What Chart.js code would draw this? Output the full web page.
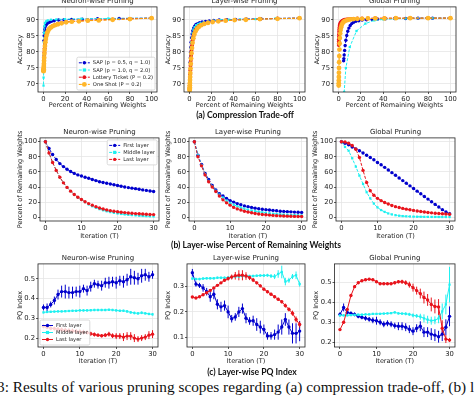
<!DOCTYPE html>
<html>
<head>
<meta charset="utf-8">
<script src="https://cdn.jsdelivr.net/npm/chart.js@4/dist/chart.umd.min.js"></script>
<style>
  body { margin: 0; background: #fff; width: 474px; height: 396px; overflow: hidden; position: relative; }
  canvas { position: absolute; }
  .cap { position: absolute; transform: translateX(-50%); white-space: nowrap; font-family: Lato, sans-serif; font-weight: bold; font-size: 8.6px; color: #111; }
  .body-text { position: absolute; left: -3px; top: 377.5px; white-space: nowrap; font-family: "Liberation Serif", serif; font-size: 15.3px; color: #111; }
</style>
</head>
<body>
<canvas id="c1"></canvas><canvas id="c2"></canvas><canvas id="c3"></canvas>
<canvas id="c4"></canvas><canvas id="c5"></canvas><canvas id="c6"></canvas>
<canvas id="c7"></canvas><canvas id="c8"></canvas><canvas id="c9"></canvas>
<div class="cap" style="left:245px;top:110px">(a) Compression Trade-off</div>
<div class="cap" style="left:256px;top:240px">(b) Layer-wise Percent of Remaining Weights</div>
<div class="cap" style="left:252px;top:367px">(c) Layer-wise PQ Index</div>
<div class="body-text">3: Results of various pruning scopes regarding (a) compression trade-off, (b) l</div>
<script>
// ---------- (a) accuracy vs percent of remaining weights ----------
const pctTicks = [0, 20, 40, 60, 80, 100];
const accTicks = [70, 75, 80, 85, 90];
const ticketX = [100, 80, 64, 51.2, 41, 32.8, 26.2, 21, 16.8, 13.4, 10.7, 8.6, 6.9, 5.5, 4.4, 3.5, 2.8, 2.25, 1.8, 1.44, 1.15, 0.92, 0.74, 0.59, 0.47, 0.38, 0.3, 0.24, 0.19, 0.15, 0.12];

const neuSap1X = [100, 70, 50, 36, 26, 19, 14, 10, 7.5, 5.5, 4, 3, 2.2, 1.6, 1.2, 0.9, 0.7, 0.5];
const neuSap1Y = [90.5, 90.4, 90.3, 90.2, 90.1, 90, 89.9, 89.7, 89.5, 89.2, 89, 88.7, 88.3, 87.8, 87, 86, 85, 83.5];
const neuSap2X = [100, 60, 35, 20, 12, 7, 4, 2.4, 1.4, 0.9, 0.6, 0.4, 0.3, 0.2, 0.15, 0.1];
const neuSap2Y = [90.5, 90.4, 90.3, 90.2, 90.1, 90, 89.8, 89.5, 89, 88, 86, 83, 79, 75, 72, 69.5];
const neuTicketY = [90.5, 90.3, 90.1, 89.9, 89.8, 89.6, 89.5, 89.3, 89.0, 88.7, 88.4, 88.1, 87.7, 87.3, 86.8, 86.1, 85.3, 84.4, 83.4, 82.3, 81.1, 79.9, 78.7, 77.6, 76.7, 75.9, 75.3, 74.8, 74.5, 74.3, 74.2];
const neuShotY = [90.5, 90.2, 90.0, 89.8, 89.7, 89.5, 89.4, 89.2, 88.9, 88.6, 88.3, 88.0, 87.6, 87.2, 86.6, 85.9, 85.0, 84.0, 83.0, 81.8, 80.6, 79.4, 78.2, 77.2, 76.3, 75.6, 75.0, 74.6, 74.3, 74.1, 74.0];

const laySap1X = [100, 80, 65, 52, 42, 34, 27, 22, 18, 14.5, 11.5, 9.2, 7.4, 5.9, 4.7, 3.8, 3.0, 2.4, 1.9, 1.5, 1.2, 1.0, 0.8, 0.65];
const laySap1Y = [90.5, 90.4, 90.3, 90.2, 90.1, 90.0, 89.9, 89.8, 89.6, 89.5, 89.3, 89.1, 88.8, 88.5, 88.0, 87.4, 86.6, 85.6, 84.4, 83.0, 81.4, 79.8, 78.2, 76.8];
const laySap2X = [100, 78, 60, 46, 36, 28, 22, 17, 13, 10, 7.8, 6, 4.6, 3.6, 2.8, 2.2, 1.7, 1.3, 1.0, 0.8, 0.6, 0.45, 0.35, 0.27];
const laySap2Y = [90.5, 90.4, 90.2, 90.1, 90.0, 89.9, 89.7, 89.5, 89.3, 89.0, 88.7, 88.3, 87.7, 86.9, 85.9, 84.6, 83.0, 81.1, 79.0, 76.8, 74.6, 72.4, 70.5, 68.8];
const layTicketY = [90.5, 90.4, 90.2, 90.1, 89.9, 89.8, 89.6, 89.4, 89.2, 88.9, 88.5, 88.1, 87.5, 86.8, 85.9, 84.8, 83.5, 82.0, 80.4, 78.8, 77.2, 75.7, 74.3, 73.0, 71.9, 71.0, 70.2, 69.6, 69.1, 68.8, 68.5];
const layShotY = [90.5, 90.3, 90.2, 90.0, 89.9, 89.7, 89.5, 89.3, 89.0, 88.7, 88.3, 87.8, 87.2, 86.4, 85.4, 84.2, 82.8, 81.2, 79.6, 77.9, 76.3, 74.8, 73.4, 72.2, 71.2, 70.3, 69.6, 69.0, 68.6, 68.3, 68.1];

const gloSap1X = [100, 84, 71, 60, 50, 42, 35, 30, 25, 21, 18, 15.5, 13.5, 11.8, 10.4, 9.2, 8.2, 7.3, 6.5, 5.9, 5.4, 5.0, 4.7, 4.5];
const gloSap1Y = [90.5, 90.5, 90.5, 90.4, 90.4, 90.3, 90.2, 90.1, 90.0, 89.9, 89.7, 89.5, 89.2, 88.8, 88.2, 87.4, 86.4, 85.1, 83.6, 82.0, 80.4, 79.0, 77.9, 77.2];
const gloSap2X = [100, 84, 71, 60, 50, 40, 32, 24, 16, 10, 6.5, 5];
const gloSap2Y = [90.5, 90.5, 90.5, 90.4, 90.3, 90.1, 89.8, 88.8, 86.5, 81.5, 75, 67.5];
const gloTicketY = [90.5, 90.5, 90.5, 90.5, 90.5, 90.5, 90.4, 90.4, 90.4, 90.3, 90.3, 90.2, 90.1, 90.0, 89.9, 89.7, 89.5, 89.3, 89.1, 88.8, 88.5, 88.1, 87.6, 87.0, 86.3, 85.5, 84.7, 83.9, 83.2, 82.6, 82.1];
const gloShotY = [90.5, 90.5, 90.5, 90.5, 90.4, 90.4, 90.4, 90.3, 90.3, 90.2, 90.1, 90.0, 89.8, 89.6, 89.3, 88.9, 88.4, 87.7, 86.8, 85.7, 84.3, 82.6, 80.7, 78.7, 76.8, 75.0, 73.5, 72.2, 71.1, 70.2, 69.5];

// ---------- (b) percent of remaining weights per layer ----------
const iters = [0, 1, 2, 3, 4, 5, 6, 7, 8, 9, 10, 11, 12, 13, 14, 15, 16, 17, 18, 19, 20, 21, 22, 23, 24, 25, 26, 27, 28, 29, 30];
const iterTicks = [0, 10, 20, 30];
const remTicks = [0, 20, 40, 60, 80, 100];

const neuFirstPct = [100, 91, 83, 76.5, 71, 67, 63.5, 60.5, 58, 56, 54.5, 53, 51.5, 50, 48.5, 47, 46, 45, 44, 43, 42, 41, 40, 39.2, 38.5, 37.8, 37, 36.2, 35.5, 34.8, 34];
const neuMidPct = [100, 85, 72.5, 62, 53, 45.5, 39.5, 34.5, 30, 26, 23, 20, 17, 14.5, 12.5, 10.7, 9.2, 7.9, 6.8, 5.8, 5.0, 4.3, 3.7, 3.2, 2.8, 2.4, 2.0, 1.7, 1.4, 1.2, 1.0];
const neuLastPct = [100, 85, 72.5, 62, 53, 45.5, 39.5, 34.5, 30, 26.5, 23.5, 20.5, 18, 16, 14, 12.3, 10.9, 9.7, 8.7, 7.9, 7.2, 6.6, 6.1, 5.6, 5.2, 4.8, 4.5, 4.2, 3.9, 3.7, 3.5];

const layFirstPct = [100, 82, 70, 58, 50, 42, 36, 31, 28, 25, 22, 20, 18, 16.5, 15, 14, 13, 12, 11.2, 10.5, 10, 9.5, 9, 8.5, 8, 7.7, 7.4, 7.1, 6.8, 6.6, 6.4];
const layMidPct = [100, 82, 69, 57, 48, 41, 35, 30, 26, 22, 19, 16.5, 14.5, 12.8, 11.3, 10, 9, 8, 7.2, 6.5, 5.8, 5.2, 4.7, 4.3, 3.9, 3.6, 3.3, 3, 2.8, 2.6, 2.4];
const layLastPct = [100, 80, 68, 56, 47, 40, 34, 28, 23, 19, 16, 13, 11, 9.5, 8, 7, 6, 5, 4.3, 3.7, 3.2, 2.8, 2.4, 2.1, 1.8, 1.6, 1.4, 1.2, 1.1, 1, 0.9];

const gloFirstPct = [100, 98, 96, 93, 90.5, 88, 85, 82, 79, 76, 72.5, 69.5, 66, 62.5, 59, 55.5, 52, 48.5, 45, 41.5, 38, 34.5, 31, 27.5, 24, 20.5, 17, 13.5, 10, 7, 4.5];
const gloMidPct = [100, 93, 88, 78, 67, 55, 44, 33, 25, 18, 13, 9.5, 7, 5, 3.7, 2.7, 2, 1.5, 1.2, 1, 0.8, 0.7, 0.6, 0.5, 0.5, 0.4, 0.4, 0.3, 0.3, 0.3, 0.3];
const gloLastPct = [100, 99.5, 98, 95, 90, 79, 62, 46, 35, 29, 25, 22, 19.5, 17.5, 15.5, 14, 12.8, 11.7, 10.7, 9.8, 9, 8.2, 7.5, 6.9, 6.3, 5.8, 5.3, 4.9, 4.5, 4.2, 4];

// ---------- (c) PQ index per layer (mean and error) ----------
const neuFirstPQ = [0.355, 0.355, 0.37, 0.39, 0.42, 0.435, 0.435, 0.43, 0.43, 0.435, 0.435, 0.45, 0.44, 0.46, 0.475, 0.47, 0.465, 0.48, 0.48, 0.485, 0.48, 0.49, 0.485, 0.495, 0.51, 0.505, 0.5, 0.515, 0.52, 0.51, 0.52];
const neuFirstErr = [0.015, 0.02, 0.015, 0.02, 0.025, 0.03, 0.035, 0.03, 0.03, 0.025, 0.03, 0.02, 0.025, 0.025, 0.02, 0.02, 0.025, 0.025, 0.03, 0.025, 0.03, 0.025, 0.03, 0.03, 0.04, 0.035, 0.03, 0.035, 0.03, 0.025, 0.02];
const neuMidPQ = [0.33, 0.332, 0.333, 0.334, 0.335, 0.335, 0.336, 0.337, 0.338, 0.338, 0.34, 0.34, 0.34, 0.341, 0.342, 0.342, 0.342, 0.342, 0.343, 0.342, 0.34, 0.338, 0.338, 0.335, 0.33, 0.327, 0.325, 0.328, 0.325, 0.322, 0.32];
const neuMidErr = [0.005, 0.005, 0.005, 0.005, 0.005, 0.005, 0.005, 0.005, 0.005, 0.005, 0.006, 0.006, 0.006, 0.006, 0.006, 0.006, 0.006, 0.006, 0.006, 0.006, 0.006, 0.006, 0.006, 0.007, 0.007, 0.007, 0.007, 0.007, 0.006, 0.006, 0.006];
const neuLastPQ = [0.26, 0.255, 0.25, 0.248, 0.245, 0.242, 0.24, 0.238, 0.236, 0.234, 0.232, 0.23, 0.228, 0.222, 0.218, 0.215, 0.212, 0.215, 0.22, 0.212, 0.21, 0.21, 0.205, 0.21, 0.21, 0.2, 0.195, 0.2, 0.205, 0.215, 0.22];
const neuLastErr = [0.01, 0.01, 0.01, 0.01, 0.01, 0.012, 0.012, 0.012, 0.012, 0.012, 0.012, 0.012, 0.01, 0.01, 0.01, 0.008, 0.008, 0.01, 0.012, 0.012, 0.015, 0.015, 0.02, 0.02, 0.02, 0.02, 0.015, 0.015, 0.015, 0.02, 0.02];

const layFirstPQ = [0.355, 0.31, 0.305, 0.295, 0.28, 0.26, 0.27, 0.23, 0.22, 0.225, 0.2, 0.173, 0.18, 0.2, 0.213, 0.175, 0.164, 0.165, 0.15, 0.14, 0.13, 0.105, 0.105, 0.11, 0.12, 0.14, 0.17, 0.14, 0.115, 0.115, 0.124];
const layFirstErr = [0.015, 0.01, 0.01, 0.015, 0.015, 0.02, 0.02, 0.02, 0.02, 0.02, 0.025, 0.015, 0.015, 0.02, 0.02, 0.02, 0.015, 0.02, 0.025, 0.025, 0.02, 0.015, 0.015, 0.02, 0.03, 0.03, 0.025, 0.03, 0.04, 0.04, 0.04];
const layMidPQ = [0.332, 0.33, 0.33, 0.332, 0.333, 0.333, 0.333, 0.335, 0.335, 0.335, 0.336, 0.338, 0.34, 0.34, 0.342, 0.342, 0.342, 0.342, 0.343, 0.344, 0.344, 0.345, 0.342, 0.34, 0.35, 0.358, 0.32, 0.325, 0.34, 0.345, 0.31];
const layMidErr = [0.005, 0.005, 0.005, 0.005, 0.005, 0.005, 0.005, 0.005, 0.005, 0.005, 0.005, 0.005, 0.005, 0.005, 0.005, 0.005, 0.005, 0.005, 0.005, 0.005, 0.006, 0.006, 0.008, 0.01, 0.015, 0.025, 0.015, 0.01, 0.01, 0.015, 0.01];
const layLastPQ = [0.259, 0.255, 0.26, 0.268, 0.276, 0.285, 0.295, 0.305, 0.315, 0.325, 0.332, 0.338, 0.343, 0.345, 0.345, 0.342, 0.336, 0.326, 0.315, 0.303, 0.29, 0.28, 0.27, 0.26, 0.25, 0.24, 0.225, 0.21, 0.195, 0.17, 0.15];
const layLastErr = [0.004, 0.004, 0.004, 0.004, 0.004, 0.004, 0.004, 0.005, 0.005, 0.006, 0.008, 0.01, 0.015, 0.02, 0.02, 0.015, 0.01, 0.008, 0.006, 0.006, 0.006, 0.006, 0.006, 0.006, 0.006, 0.006, 0.008, 0.008, 0.01, 0.012, 0.012];

const gloFirstPQ = [0.34, 0.375, 0.35, 0.345, 0.34, 0.33, 0.325, 0.32, 0.315, 0.31, 0.308, 0.3, 0.29, 0.295, 0.29, 0.283, 0.28, 0.28, 0.275, 0.265, 0.255, 0.27, 0.28, 0.25, 0.25, 0.24, 0.235, 0.227, 0.24, 0.275, 0.33];
const gloFirstErr = [0.01, 0.02, 0.015, 0.01, 0.01, 0.01, 0.01, 0.012, 0.012, 0.015, 0.02, 0.015, 0.015, 0.015, 0.015, 0.015, 0.02, 0.02, 0.02, 0.02, 0.02, 0.02, 0.025, 0.025, 0.025, 0.03, 0.03, 0.03, 0.035, 0.04, 0.05];
const gloMidPQ = [0.335, 0.335, 0.335, 0.336, 0.337, 0.338, 0.338, 0.34, 0.34, 0.342, 0.342, 0.343, 0.344, 0.345, 0.346, 0.35, 0.345, 0.344, 0.343, 0.34, 0.335, 0.332, 0.328, 0.32, 0.313, 0.308, 0.31, 0.32, 0.355, 0.39, 0.49];
const gloMidErr = [0.005, 0.005, 0.005, 0.005, 0.005, 0.005, 0.005, 0.005, 0.005, 0.005, 0.005, 0.005, 0.005, 0.005, 0.005, 0.006, 0.006, 0.006, 0.008, 0.008, 0.01, 0.01, 0.015, 0.02, 0.02, 0.02, 0.02, 0.025, 0.04, 0.05, 0.09];
const gloLastPQ = [0.263, 0.3, 0.365, 0.435, 0.48, 0.5, 0.51, 0.515, 0.518, 0.515, 0.505, 0.495, 0.495, 0.495, 0.495, 0.5, 0.505, 0.505, 0.5, 0.49, 0.475, 0.46, 0.445, 0.425, 0.413, 0.39, 0.38, 0.377, 0.27, 0.215, 0.21];
const gloLastErr = [0.005, 0.006, 0.006, 0.006, 0.006, 0.006, 0.006, 0.006, 0.006, 0.006, 0.006, 0.006, 0.006, 0.006, 0.006, 0.008, 0.008, 0.01, 0.012, 0.015, 0.02, 0.02, 0.025, 0.03, 0.03, 0.035, 0.035, 0.04, 0.04, 0.02, 0.01];

const pqTicksA = [0.2, 0.3, 0.4, 0.5];
const pqTicksB = [0.1, 0.2, 0.3];

// ---------- styling ----------
const FONT = '"DejaVu Sans", sans-serif';
const TICK = 6.8, LABEL = 6.5, TITLE = 7;
const BLUE = '#0000cd', CYAN = '#1ef0f0', RED = '#e8141c', ORANGE = '#ffa500';
const TH = TITLE * 1.2 + 1.5;

function drawMarker(ctx, style, r, x, y) {
  ctx.beginPath();
  if (style === 'rect') ctx.rect(x - r, y - r, 2 * r, 2 * r);
  else ctx.arc(x, y, r, 0, Math.PI * 2);
  ctx.fill();
}

function decor(legend) {
  return {
    id: 'decor',
    beforeDatasetsDraw(chart) {
      const ctx = chart.ctx, a = chart.chartArea, ys = chart.scales.y, xs = chart.scales.x;
      ctx.save();
      ctx.beginPath(); ctx.rect(a.left, a.top, a.right - a.left, a.bottom - a.top); ctx.clip();
      chart.data.datasets.forEach(d => {
        if (!d.errors) return;
        ctx.strokeStyle = d.borderColor; ctx.lineWidth = 1;
        d.data.forEach((p, k) => {
          const px = xs.getPixelForValue(p.x);
          ctx.beginPath();
          ctx.moveTo(px, ys.getPixelForValue(p.y - d.errors[k]));
          ctx.lineTo(px, ys.getPixelForValue(p.y + d.errors[k]));
          ctx.stroke();
        });
      });
      ctx.restore();
    },
    afterDatasetsDraw(chart) {
      const ctx = chart.ctx, a = chart.chartArea;
      ctx.save();
      ctx.strokeStyle = '#222'; ctx.lineWidth = 0.8;
      ctx.strokeRect(a.left, a.top, a.right - a.left, a.bottom - a.top);
      if (legend) {
        const ds = chart.data.datasets;
        ctx.font = legend.size + 'px ' + FONT;
        const tw = Math.max(...ds.map(d => ctx.measureText(d.label).width));
        const pad = 2, sw = 11, rh = legend.row;
        const w = pad * 2 + sw + 3 + tw, h = pad * 2 + rh * ds.length;
        const x = legend.x === 'right' ? a.right - w - 2 : a.left + 2;
        const y = legend.y === 'bottom' ? a.bottom - h - 2 : a.top + 2;
        ctx.fillStyle = 'rgba(255,255,255,0.8)'; ctx.strokeStyle = '#d0d0d0'; ctx.lineWidth = 0.8;
        ctx.beginPath(); ctx.roundRect(x, y, w, h, 1.5); ctx.fill(); ctx.stroke();
        ds.forEach((d, i) => {
          const cy = y + pad + rh * (i + 0.5);
          ctx.strokeStyle = d.borderColor; ctx.lineWidth = 1; ctx.setLineDash(d.borderDash || []);
          ctx.beginPath(); ctx.moveTo(x + pad, cy); ctx.lineTo(x + pad + sw, cy); ctx.stroke();
          ctx.setLineDash([]);
          ctx.fillStyle = d.pointBackgroundColor;
          drawMarker(ctx, d.pointStyle, d.pointRadius, x + pad + sw / 2, cy);
          ctx.fillStyle = '#222'; ctx.textBaseline = 'middle';
          ctx.fillText(d.label, x + pad + sw + 3, cy + 0.3);
        });
      }
      ctx.restore();
    }
  };
}

function build(id, g, spec) {
  const cv = document.getElementById(id);
  const left = g.l - g.yw, top = g.t - TH;
  cv.width = g.r - left + g.pr; cv.height = g.b + g.xh - top;
  cv.style.left = left + 'px'; cv.style.top = top + 'px';
  const axis = (ticks, min, max, title, horiz, size) => ({
    type: 'linear', min, max,
    afterBuildTicks: s => { s.ticks = ticks.map(v => ({ value: v })); },
    afterFit: s => {
      if (horiz) { s.height = size; s.paddingLeft = 0; s.paddingRight = 0; }
      else { s.width = size; s.paddingTop = 0; s.paddingBottom = 0; }
    },
    grid: { color: '#e6e6e6', lineWidth: 0.8, tickLength: 2, tickColor: '#333', tickWidth: 0.8 },
    border: { display: false },
    ticks: { font: { family: FONT, size: TICK }, color: '#222', padding: 1, maxRotation: 0, autoSkip: false, callback: v => String(v) },
    title: { display: true, text: title, font: { family: FONT, size: LABEL, lineHeight: 1.2 }, color: '#222', padding: 0 }
  });
  new Chart(cv, {
    type: 'line',
    data: {
      datasets: spec.series.map((s, i) => ({
        label: s.label,
        data: s.xs.map((x, k) => ({ x, y: s.ys[k] })),
        errors: s.err,
        borderColor: s.color, backgroundColor: s.color,
        pointBackgroundColor: s.mark || s.color, pointBorderColor: s.mark || s.color,
        pointStyle: s.style || 'circle', pointRadius: s.r || 1.7, pointBorderWidth: 0,
        borderWidth: 1, borderDash: spec.dash, tension: 0, order: -i
      }))
    },
    options: {
      responsive: false, animation: false, events: [], devicePixelRatio: 1,
      layout: { padding: { left: 0, right: g.pr, top: 0, bottom: 0 } },
      plugins: {
        legend: { display: false }, tooltip: { enabled: false },
        title: { display: true, text: spec.title, fullSize: false, color: '#222',
                 font: { family: FONT, size: TITLE, weight: 'normal', lineHeight: 1.2 }, padding: { top: 0, bottom: 1.5 } }
      },
      scales: {
        x: axis(spec.xTicks, spec.xMin, spec.xMax, spec.xTitle, true, g.xh),
        y: axis(spec.yTicks, spec.yMin, spec.yMax, spec.yTitle, false, g.yw)
      }
    },
    plugins: [decor(spec.legend)]
  });
}

// ---------- row (a) ----------
const accSeries = (s1x, s1y, s2x, s2y, tY, oY) => [
  { label: 'SAP (p = 0.5, q = 1.0)', xs: s1x, ys: s1y, color: BLUE },
  { label: 'SAP (p = 1.0, q = 2.0)', xs: s2x, ys: s2y, color: CYAN, style: 'rect', r: 1.6 },
  { label: 'Lottery Ticket (P = 0.2)', xs: ticketX, ys: tY, color: RED, r: 1.9 },
  { label: 'One Shot (P = 0.2)', xs: ticketX, ys: oY, color: ORANGE, mark: '#ffb62a', r: 2.4 }
];
const rowA = { xTicks: pctTicks, yTicks: accTicks, xMin: -5, xMax: 105, yMin: 67.5, yMax: 94,
  xTitle: 'Percent of Remaining Weights', yTitle: 'Accuracy', dash: [3, 1.5] };
build('c1', { l: 38, r: 157, t: 7, b: 93, yw: 22, xh: 17, pr: 6 },
  { ...rowA, title: 'Neuron-wise Pruning', series: accSeries(neuSap1X, neuSap1Y, neuSap2X, neuSap2Y, neuTicketY, neuShotY),
    legend: { x: 'right', y: 'bottom', size: 5.2, row: 7.2 } });
build('c2', { l: 184, r: 305, t: 7, b: 93, yw: 20, xh: 17, pr: 6 },
  { ...rowA, title: 'Layer-wise Pruning', series: accSeries(laySap1X, laySap1Y, laySap2X, laySap2Y, layTicketY, layShotY) });
build('c3', { l: 333, r: 456, t: 7, b: 93, yw: 20, xh: 17, pr: 8 },
  { ...rowA, title: 'Global Pruning', series: accSeries(gloSap1X, gloSap1Y, gloSap2X, gloSap2Y, gloTicketY, gloShotY) });

// ---------- row (b) ----------
const layerSeries = (f, m, l, fe, me, le) => [
  { label: 'First layer', xs: iters, ys: f, err: fe, color: BLUE },
  { label: 'Middle layer', xs: iters, ys: m, err: me, color: CYAN, style: 'rect', r: 1.6 },
  { label: 'Last layer', xs: iters, ys: l, err: le, color: RED }
];
const rowB = { xTicks: iterTicks, yTicks: remTicks, xMin: -1.5, xMax: 31.5, yMin: -5, yMax: 105,
  xTitle: 'Iteration (T)', yTitle: 'Percent of Remaining Weights', dash: [3, 1.5] };
build('c4', { l: 40, r: 159, t: 138, b: 222, yw: 24, xh: 19, pr: 6 },
  { ...rowB, title: 'Neuron-wise Pruning', series: layerSeries(neuFirstPct, neuMidPct, neuLastPct),
    legend: { x: 'right', y: 'top', size: 5.2, row: 7 } });
build('c5', { l: 189, r: 307, t: 138, b: 222, yw: 25, xh: 19, pr: 6 },
  { ...rowB, title: 'Layer-wise Pruning', series: layerSeries(layFirstPct, layMidPct, layLastPct) });
build('c6', { l: 336, r: 455, t: 138, b: 222, yw: 25, xh: 19, pr: 8 },
  { ...rowB, title: 'Global Pruning', series: layerSeries(gloFirstPct, gloMidPct, gloLastPct) });

// ---------- row (c) ----------
const rowC = { xTicks: iterTicks, xMin: -1.5, xMax: 31.5, xTitle: 'Iteration (T)', yTitle: 'PQ Index', dash: [] };
build('c7', { l: 38, r: 158, t: 264, b: 348, yw: 22, xh: 18, pr: 6 },
  { ...rowC, yTicks: pqTicksA, yMin: 0.155, yMax: 0.575, title: 'Neuron-wise Pruning',
    series: layerSeries(neuFirstPQ, neuMidPQ, neuLastPQ, neuFirstErr, neuMidErr, neuLastErr),
    legend: { x: 'left', y: 'bottom', size: 5.2, row: 7 } });
build('c8', { l: 187, r: 305, t: 264, b: 348, yw: 23, xh: 18, pr: 6 },
  { ...rowC, yTicks: pqTicksB, yMin: 0.061, yMax: 0.39, title: 'Layer-wise Pruning',
    series: layerSeries(layFirstPQ, layMidPQ, layLastPQ, layFirstErr, layMidErr, layLastErr) });
build('c9', { l: 334, r: 455, t: 264, b: 348, yw: 22.5, xh: 18, pr: 8 },
  { ...rowC, yTicks: pqTicksA, yMin: 0.175, yMax: 0.595, title: 'Global Pruning',
    series: layerSeries(gloFirstPQ, gloMidPQ, gloLastPQ, gloFirstErr, gloMidErr, gloLastErr) });
</script>
</body>
</html>
